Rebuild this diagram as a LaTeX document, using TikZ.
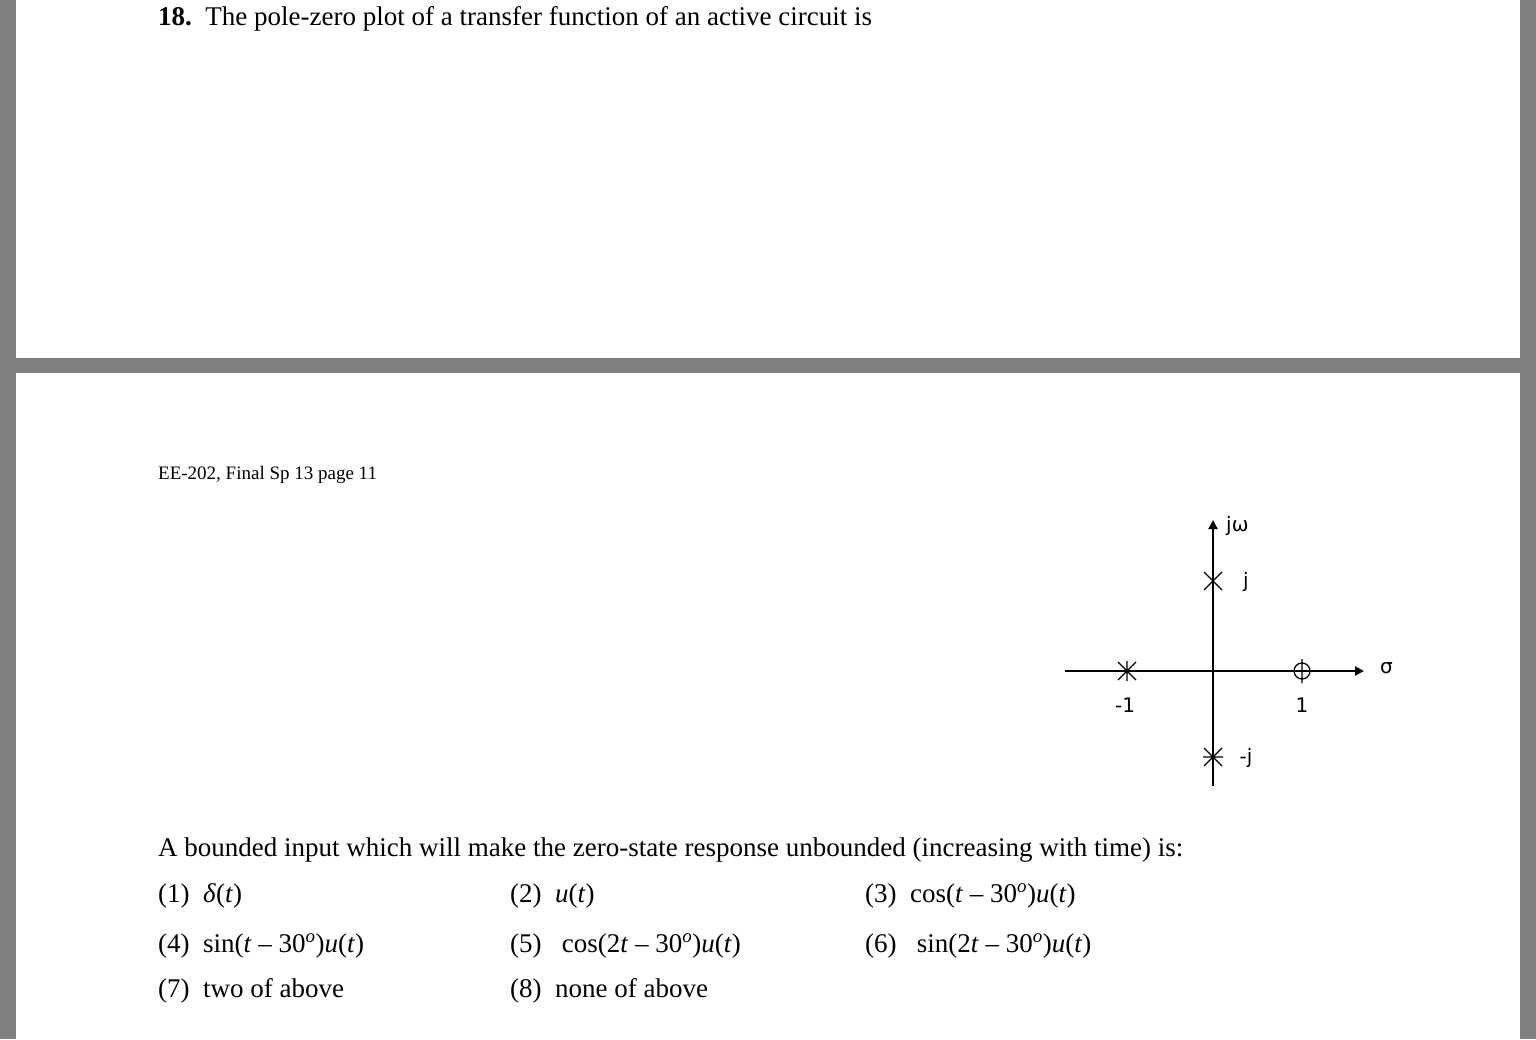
\documentclass[tikz,border=0pt]{standalone}
\usepackage{fontspec}
\usetikzlibrary{arrows.meta,calc}
\setmainfont{Liberation Serif}
\newfontfamily\plotfont{DejaVu Sans}
\begin{document}
\begin{tikzpicture}[x=1pt,y=-1pt,
  txt/.style={anchor=base west,inner sep=0pt,font=\fontsize{27}{30}\selectfont},
  lab/.style={inner sep=0pt,font=\plotfont\fontsize{20}{22}\selectfont},
  ax/.style={line width=2pt,-{Triangle[length=9pt,width=9pt]}},
  pole/.style={line width=1.3pt}]
\useasboundingbox (0,0) rectangle (1536,1039);
\fill[fill={rgb,255:red,128;green,128;blue,128}] (0,0) rectangle (1536,1039);
\fill[white] (16,0) rectangle (1520,358);
\fill[white] (16,373) rectangle (1520,1039);
\node[txt] (title) at (158,25) {\textbf{18.}\ \ The pole-zero plot of a transfer function of an active circuit is};
\node[txt,font=\fontsize{19}{22}\selectfont] (hdr) at (158,479) {EE-202, Final Sp 13 page 11};
% plot
\coordinate (o) at (1213,671);
\coordinate (xl) at (1065,671);
\coordinate (xr) at (1364,671);
\coordinate (yb) at (1213,786);
\coordinate (yt) at (1213,520);
\draw[ax] (xl) -- (xr);
\draw[ax] (yb) -- (yt);
\node[lab,anchor=west] (jw) at (1226,526) {jω};
\node[lab,anchor=west] (sig) at (1380,668) {σ};
\coordinate (pj) at (1213,581);
\coordinate (pmj) at (1213,757);
\coordinate (pm1) at (1127,671);
\coordinate (z1) at (1302,671);
\draw[pole] ($(pj)+(-9,-9)$) -- ($(pj)+(9,9)$) ($(pj)+(-9,9)$) -- ($(pj)+(9,-9)$);
\draw[pole] ($(pmj)+(-9,-9)$) -- ($(pmj)+(9,9)$) ($(pmj)+(-9,9)$) -- ($(pmj)+(9,-9)$) ($(pmj)+(-10,0)$) -- ($(pmj)+(10,0)$);
\draw[pole] ($(pm1)+(-9,-9)$) -- ($(pm1)+(9,9)$) ($(pm1)+(-9,9)$) -- ($(pm1)+(9,-9)$) ($(pm1)+(0,-10)$) -- ($(pm1)+(0,10)$);
\fill (pm1) circle (2.5pt); \fill (pmj) circle (2.5pt);
\draw[pole] (z1) circle (8pt) ($(z1)+(0,-12)$) -- ($(z1)+(0,12)$);
\node[lab] (lj) at (1246,582) {j};
\node[lab] (lmj) at (1246,758) {-j};
\node[lab] (lm1) at (1125,705) {-1};
\node[lab] (l1) at (1302,705) {1};
% question
\node[txt] (q) at (158,856) {A bounded input which will make the zero-state response unbounded (increasing with time) is:};
\node[txt] (o1) at (158,902) {(1)\ \ \textit{δ}(\textit{t})};
\node[txt] (o2) at (510,902) {(2)\ \ \textit{u}(\textit{t})};
\node[txt] (o3) at (865,902) {(3)\ \ cos(\textit{t} – 30\textsuperscript{\textit{o}})\textit{u}(\textit{t})};
\node[txt] (o4) at (158,952) {(4)\ \ sin(\textit{t} – 30\textsuperscript{\textit{o}})\textit{u}(\textit{t})};
\node[txt] (o5) at (510,952) {(5)\ \ \ cos(2\textit{t} – 30\textsuperscript{\textit{o}})\textit{u}(\textit{t})};
\node[txt] (o6) at (865,952) {(6)\ \ \ sin(2\textit{t} – 30\textsuperscript{\textit{o}})\textit{u}(\textit{t})};
\node[txt] (o7) at (158,997) {(7)\ \ two of above};
\node[txt] (o8) at (510,997) {(8)\ \ none of above};
\end{tikzpicture}
\end{document}
